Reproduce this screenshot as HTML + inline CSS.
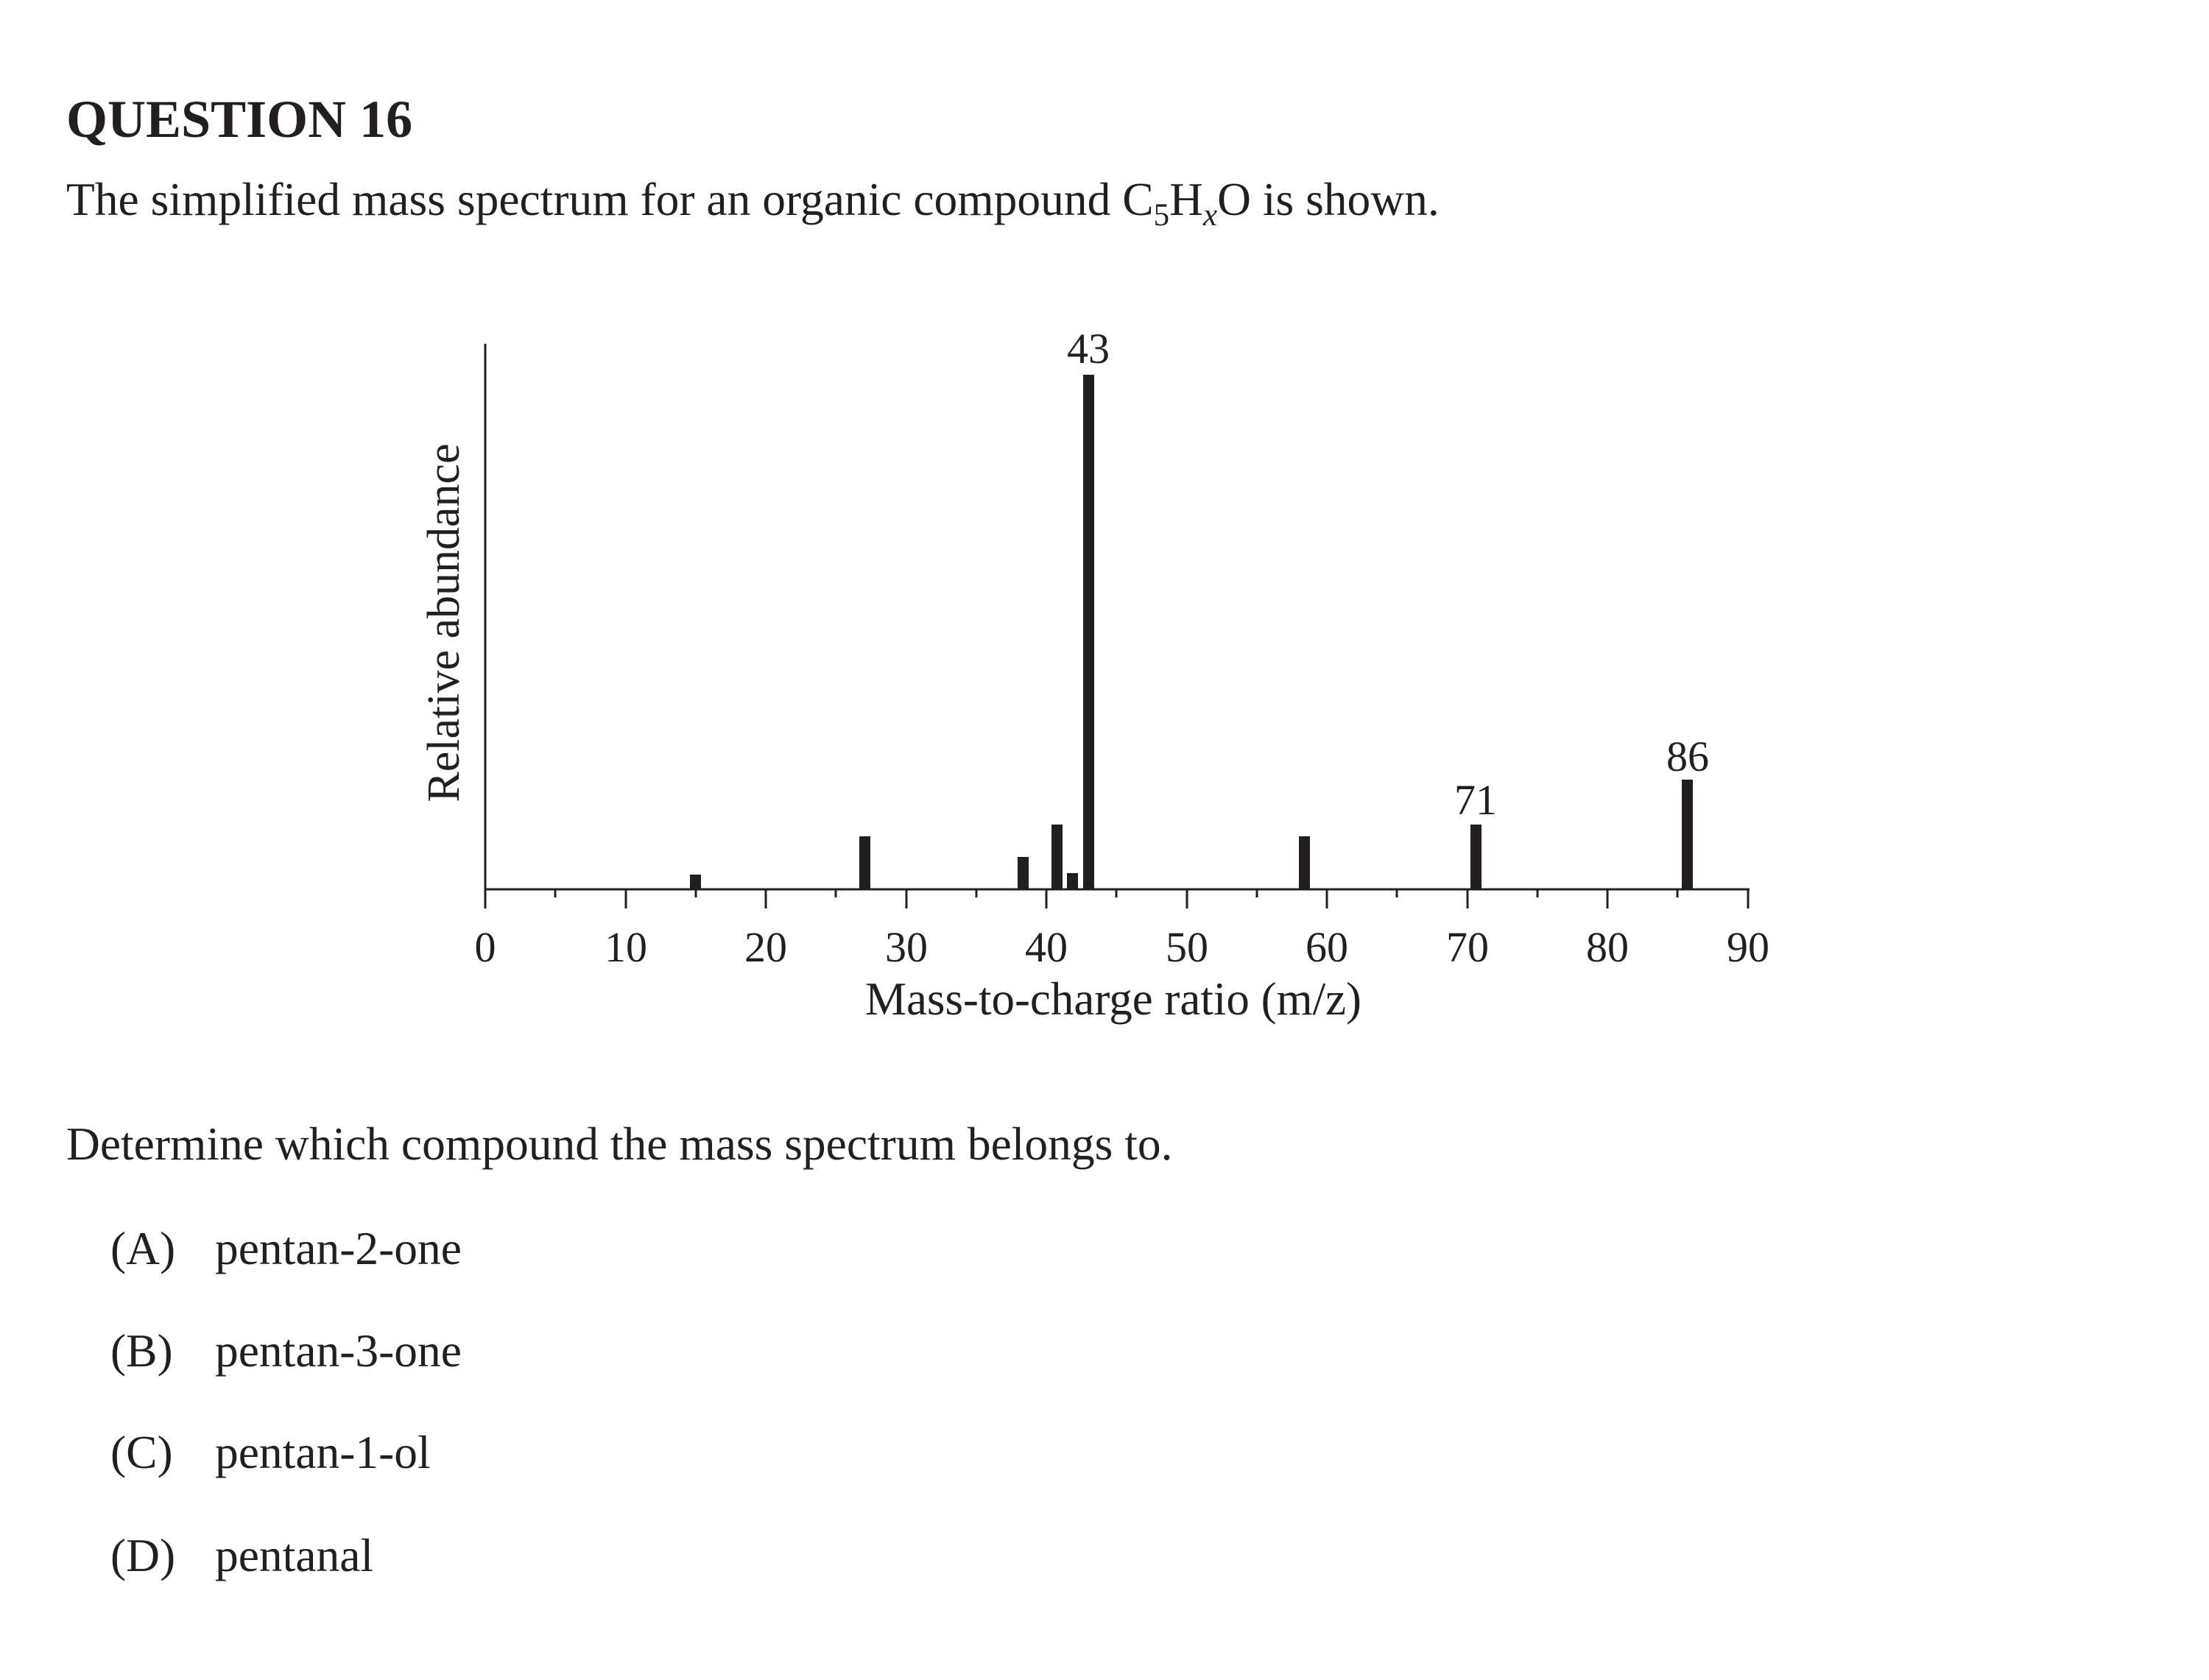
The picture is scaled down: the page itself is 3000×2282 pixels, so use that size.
<!DOCTYPE html>
<html><head><meta charset="utf-8"><style>
html,body{margin:0;padding:0;background:#fff;}
body{width:3000px;height:2282px;overflow:hidden;position:relative;font-family:"Liberation Serif",serif;color:#231f20;}
svg{position:absolute;left:0;top:0;}
</style></head><body>
<svg width="3000" height="2282" viewBox="0 0 3000 2282" xmlns="http://www.w3.org/2000/svg" font-family="Liberation Serif, serif" fill="#231f20">
<text x="90" y="186" font-size="72" font-weight="bold">QUESTION 16</text>
<text x="90" y="292" font-size="63.5">The simplified mass spectrum for an organic compound C<tspan font-size="43" dy="14">5</tspan><tspan dy="-14">H</tspan><tspan font-size="43" font-style="italic" dy="14">x</tspan><tspan dy="-14">O is shown.</tspan></text>

<g transform="translate(-4,-7)">
<line x1="663" y1="474" x2="663" y2="1241" stroke="#231f20" stroke-width="3"/>
<line x1="663" y1="1215" x2="2380" y2="1215" stroke="#231f20" stroke-width="3"/>
<g stroke="#231f20" stroke-width="3">
<line x1="854" y1="1215" x2="854" y2="1241"/><line x1="1044" y1="1215" x2="1044" y2="1241"/>
<line x1="1235" y1="1215" x2="1235" y2="1241"/><line x1="1425" y1="1215" x2="1425" y2="1241"/>
<line x1="1616" y1="1215" x2="1616" y2="1241"/><line x1="1806" y1="1215" x2="1806" y2="1241"/>
<line x1="1997" y1="1215" x2="1997" y2="1241"/><line x1="2187" y1="1215" x2="2187" y2="1241"/>
<line x1="2378" y1="1215" x2="2378" y2="1241"/>
<line x1="758" y1="1215" x2="758" y2="1226"/><line x1="949" y1="1215" x2="949" y2="1226"/>
<line x1="1139" y1="1215" x2="1139" y2="1226"/><line x1="1330" y1="1215" x2="1330" y2="1226"/>
<line x1="1520" y1="1215" x2="1520" y2="1226"/><line x1="1711" y1="1215" x2="1711" y2="1226"/>
<line x1="1901" y1="1215" x2="1901" y2="1226"/><line x1="2092" y1="1215" x2="2092" y2="1226"/>
<line x1="2282" y1="1215" x2="2282" y2="1226"/>
</g>
<rect x="941" y="1195" width="15" height="20"/>
<rect x="1171" y="1143" width="15" height="72"/>
<rect x="1386" y="1171" width="15" height="44"/>
<rect x="1432" y="1127" width="15" height="88"/>
<rect x="1453" y="1193" width="15" height="22"/>
<rect x="1475" y="516" width="15" height="699"/>
<rect x="1768" y="1143" width="15" height="72"/>
<rect x="2001" y="1127" width="15" height="88"/>
<rect x="2288" y="1066" width="15" height="149"/>
<g font-size="58" text-anchor="middle">
<text x="1482" y="500">43</text>
<text x="2008" y="1113">71</text>
<text x="2296" y="1054">86</text>
</g>
<g font-size="58" text-anchor="middle">
<text x="663" y="1313">0</text><text x="854" y="1313">10</text><text x="1044" y="1313">20</text>
<text x="1235" y="1313">30</text><text x="1425" y="1313">40</text><text x="1616" y="1313">50</text>
<text x="1806" y="1313">60</text><text x="1997" y="1313">70</text><text x="2187" y="1313">80</text>
<text x="2378" y="1313">90</text>
</g>
<text x="1516" y="1385" font-size="63" text-anchor="middle">Mass-to-charge ratio (m/z)</text>
<text transform="translate(627,853) rotate(-90)" font-size="62" text-anchor="middle">Relative abundance</text>
</g>

<text x="90" y="1575" font-size="63.5">Determine which compound the mass spectrum belongs to.</text>
<g font-size="63.5">
<text x="150" y="1717">(A)</text><text x="292" y="1717">pentan-2-one</text>
<text x="150" y="1856">(B)</text><text x="292" y="1856">pentan-3-one</text>
<text x="150" y="1994">(C)</text><text x="292" y="1994">pentan-1-ol</text>
<text x="150" y="2134">(D)</text><text x="292" y="2134">pentanal</text>
</g>
</svg>
</body></html>
